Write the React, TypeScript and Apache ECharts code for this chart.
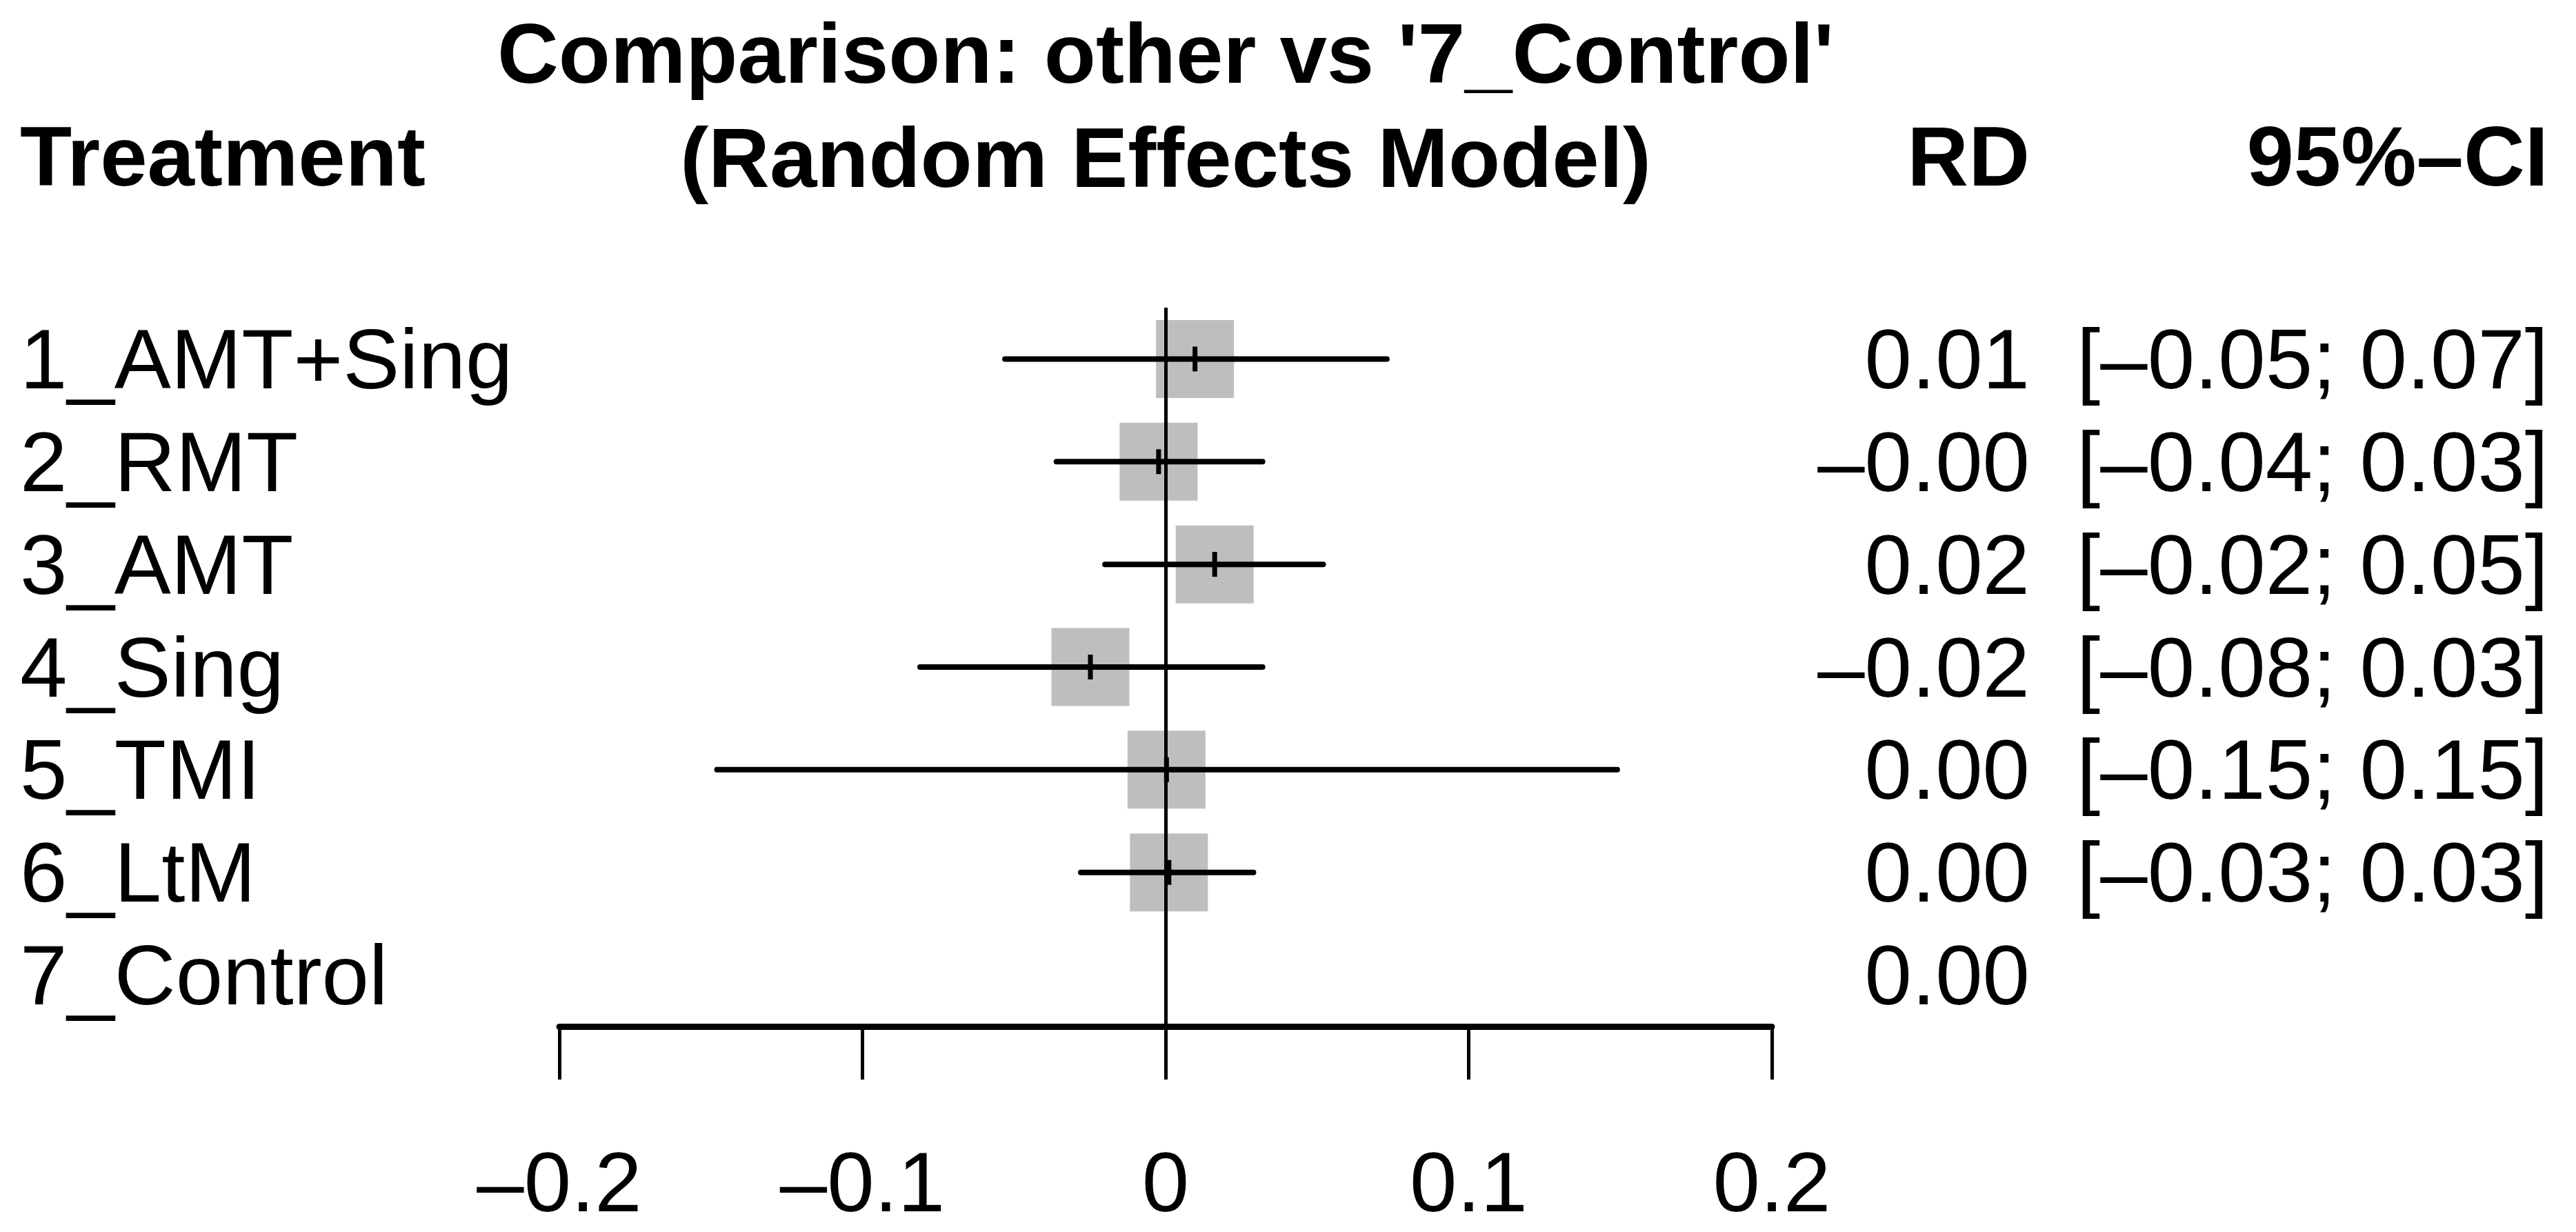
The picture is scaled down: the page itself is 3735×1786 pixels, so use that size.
import React, { useEffect, useRef } from "react";
import * as echarts from "echarts";

const treatments = ["1_AMT+Sing", "2_RMT", "3_AMT", "4_Sing", "5_TMI", "6_LtM", "7_Control"];
const estimates = [0.0097, -0.0023, 0.0162, -0.0248, 0.0003, 0.0011, 0];
const lowerCI: (number | null)[] = [-0.053, -0.036, -0.020, -0.081, -0.148, -0.028, null];
const upperCI: (number | null)[] = [0.073, 0.032, 0.052, 0.032, 0.149, 0.029, null];
const rdLabels = ["0.01", "\u20130.00", "0.02", "\u20130.02", "0.00", "0.00", "0.00"];
const ciLabels = [
  "[\u20130.05; 0.07]",
  "[\u20130.04; 0.03]",
  "[\u20130.02; 0.05]",
  "[\u20130.08; 0.03]",
  "[\u20130.15; 0.15]",
  "[\u20130.03; 0.03]",
  "",
];
const xTicks = [-0.2, -0.1, 0, 0.1, 0.2];
const xTickLabels = ["\u20130.2", "\u20130.1", "0", "0.1", "0.2"];
const titleLines = ["Comparison: other vs '7_Control'", "(Random Effects Model)"];
const columnHeaders = ["Treatment", "RD", "95%\u2013CI"];

const FONT = "'Liberation Sans', Arial, Helvetica, sans-serif";
const FS = 123;
const W = 3735;
const H = 1786;
const PLOT_LEFT = 811;
const PLOT_RIGHT = 2569;
const PLOT_TOP = 446;
const AXIS_Y = 1488;
const ZERO_X = 1690;

export default function App() {
  const ref = useRef<HTMLDivElement>(null);
  useEffect(() => {
    if (!ref.current) return;
    const chart = echarts.init(ref.current, undefined, { renderer: "svg" });
    const rows = treatments.map((_, i) => i).filter((i) => lowerCI[i] !== null);
    const headerStyle = (text: string, align: string) => ({
      text,
      fill: "#000",
      font: `bold ${FS}px ${FONT}`,
      textAlign: align,
      textVerticalAlign: "middle",
    });
    const option: any = {
      animation: false,
      backgroundColor: "#fff",
      grid: {
        left: PLOT_LEFT,
        top: PLOT_TOP,
        width: PLOT_RIGHT - PLOT_LEFT,
        height: AXIS_Y - PLOT_TOP,
        containLabel: false,
        outerBoundsMode: "none",
      },
      xAxis: {
        type: "value",
        min: xTicks[0],
        max: xTicks[xTicks.length - 1],
        interval: 0.1,
        axisLine: { show: true, onZero: false, lineStyle: { color: "#000", width: 9 } },
        axisTick: { show: true, length: 77, lineStyle: { color: "#000", width: 5 } },
        splitLine: { show: false },
        axisLabel: {
          show: true,
          showMinLabel: true,
          showMaxLabel: true,
          margin: 164,
          color: "#000",
          fontSize: FS,
          fontFamily: FONT,
          formatter: (v: number) => {
            const idx = xTicks.findIndex((t) => Math.abs(t - v) < 1e-9);
            return idx >= 0 ? xTickLabels[idx] : "";
          },
        },
      },
      yAxis: [
        {
          type: "category",
          data: treatments,
          inverse: true,
          position: "left",
          axisLine: { show: false },
          axisTick: { show: false },
          splitLine: { show: false },
          axisLabel: {
            interval: 0,
            align: "left",
            margin: PLOT_LEFT - 29,
            color: "#000",
            fontSize: FS,
            fontFamily: FONT,
          },
        },
        {
          type: "category",
          data: treatments,
          inverse: true,
          position: "right",
          axisLine: { show: false },
          axisTick: { show: false },
          splitLine: { show: false },
          axisLabel: {
            interval: 0,
            align: "right",
            margin: 2943 - PLOT_RIGHT,
            color: "#000",
            fontSize: FS,
            fontFamily: FONT,
            formatter: (_v: string, idx: number) => rdLabels[idx],
          },
        },
        {
          type: "category",
          data: treatments,
          inverse: true,
          position: "right",
          axisLine: { show: false },
          axisTick: { show: false },
          splitLine: { show: false },
          axisLabel: {
            interval: 0,
            align: "right",
            margin: 3695 - PLOT_RIGHT,
            color: "#000",
            fontSize: FS,
            fontFamily: FONT,
            formatter: (_v: string, idx: number) => ciLabels[idx],
          },
        },
      ],
      series: [
        {
          type: "line",
          data: [[0, 0]],
          showSymbol: false,
          symbol: "none",
          lineStyle: { width: 0 },
          z: 1,
          silent: true,
          markLine: {
            silent: true,
            symbol: "none",
            animation: false,
            label: { show: false },
            lineStyle: { color: "#000", width: 5, type: "solid" },
            data: [{ xAxis: 0 }],
          },
        },
        {
          type: "scatter",
          symbol: "rect",
          symbolSize: 113,
          itemStyle: { color: "#bebebe", opacity: 1 },
          data: rows.map((i) => [estimates[i], i]),
          z: 2,
          silent: true,
        },
        {
          type: "custom",
          data: rows.map((i) => [lowerCI[i], upperCI[i], i]),
          encode: { x: [0, 1], y: 2 },
          z: 3,
          silent: true,
          renderItem: (_params: any, api: any) => {
            const y = api.value(2);
            const p1 = api.coord([api.value(0), y]);
            const p2 = api.coord([api.value(1), y]);
            return {
              type: "line",
              shape: { x1: p1[0], y1: p1[1], x2: p2[0], y2: p2[1] },
              style: { stroke: "#000", lineWidth: 8, lineCap: "round" },
            };
          },
        },
        {
          type: "scatter",
          symbol: "rect",
          symbolSize: [7, 36],
          itemStyle: { color: "#000", opacity: 1 },
          data: rows.map((i) => [estimates[i], i]),
          z: 4,
          silent: true,
        },
      ],
      graphic: [
        { type: "text", x: ZERO_X, y: 77, style: headerStyle(titleLines[0], "center") },
        { type: "text", x: ZERO_X, y: 228, style: headerStyle(titleLines[1], "center") },
        { type: "text", x: 29, y: 226, style: headerStyle(columnHeaders[0], "left") },
        { type: "text", x: 2943, y: 226, style: headerStyle(columnHeaders[1], "right") },
        { type: "text", x: 3695, y: 226, style: headerStyle(columnHeaders[2], "right") },
      ],
    };
    chart.setOption(option);
    return () => chart.dispose();
  }, []);
  return (
    <div
      ref={ref}
      style={{ position: "absolute", left: 0, top: 0, width: W, height: H, background: "#fff" }}
    />
  );
}
